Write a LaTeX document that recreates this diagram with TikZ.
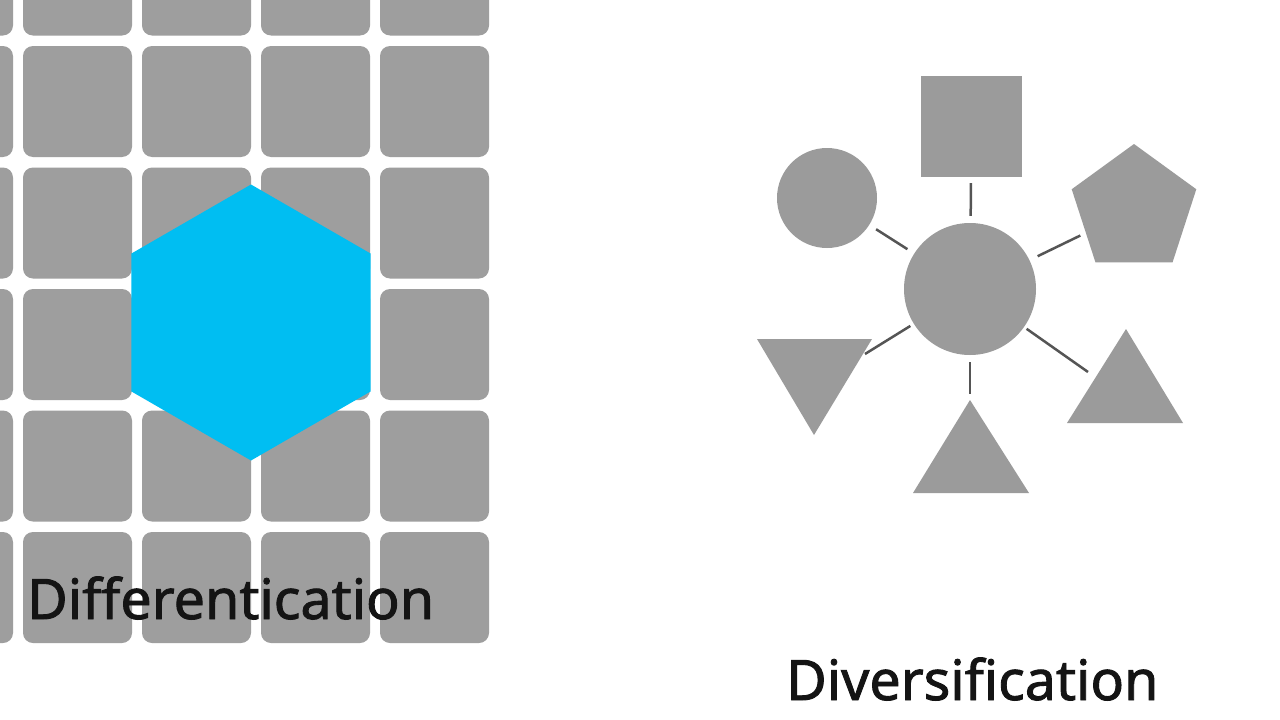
\documentclass[tikz,border=0pt]{standalone}
\usepackage{fontspec}
\setmainfont{Noto Sans}[FakeBold=1.6]
\usetikzlibrary{shapes.geometric}
\definecolor{tilegray}{RGB}{158,158,158}
\definecolor{shapegray}{RGB}{155,155,155}
\definecolor{hexcyan}{RGB}{0,190,242}
\definecolor{linegray}{RGB}{85,85,85}
\tikzset{
  tile/.style={fill=tilegray, rounded corners=10pt},
  gshape/.style={fill=shapegray, draw=none, inner sep=0pt},
  conn/.style={draw=linegray, line width=2.5pt},
  label/.style={font=\fontsize{55.6}{66}\selectfont, text=black!92, inner sep=0pt, anchor=base west}
}
\begin{document}
\begin{tikzpicture}[x=1pt,y=-1pt]
\useasboundingbox (0,0) rectangle (1280,720);
\fill[white] (0,0) rectangle (1280,720);
% tile grid
\begin{scope}
\clip (0,0) rectangle (1280,720);
\foreach \c in {0,1,2,3,4} {
  \foreach \r in {0,1,2,3,4,5} {
    \fill[tile] ({-96+119*\c},{-75.5+121.5*\r}) rectangle ++(109,111);
  }
}
\end{scope}
% hexagon
\node[regular polygon, regular polygon sides=6, shape border rotate=30, minimum size=276pt, inner sep=0pt, fill=hexcyan] (hex) at (251,322.5) {};
% label left
\node[label] (diff) at (27,619) {Differentication};
% right cluster
\node[gshape, circle, minimum size=132pt] (hub) at (970,289) {};
\node[gshape, rectangle, minimum width=101pt, minimum height=101pt] (sq) at (971.5,126.5) {};
\node[gshape, circle, minimum size=100pt] (c1) at (827,198) {};
\node[gshape, regular polygon, regular polygon sides=5, minimum size=131pt] (pent) at (1134,209.5) {};
\fill[shapegray] (757,339) -- (872,339) -- (814,435) -- cycle;
\fill[shapegray] (970,400) -- (1029,493) -- (913,493) -- cycle;
\fill[shapegray] (1126,329) -- (1183,423) -- (1067,423) -- cycle;
\coordinate (tl) at (865,354);
\coordinate (tb) at (970,394);
\coordinate (tr) at (1088,372);
% connectors
\draw[conn, shorten <=7pt, shorten >=6pt] (hub) -- (sq);
\draw[conn, shorten <=8pt, shorten >=8pt] (hub) -- (c1);
\draw[conn, shorten <=9pt, shorten >=6pt] (hub) -- (pent);
\draw[conn, shorten <=4pt] (hub) -- (tl);
\draw[conn, shorten <=7pt] (hub) -- (tb);
\draw[conn, shorten <=3pt] (hub) -- (tr);
% label right
\node[label] (divers) at (786,700) {Diversification};
\end{tikzpicture}
\end{document}
